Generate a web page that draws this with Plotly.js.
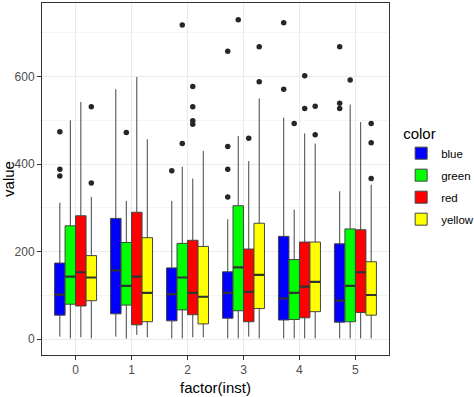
<!DOCTYPE html>
<html><head><meta charset="utf-8">
<script src="https://cdn.plot.ly/plotly-3.0.1.min.js"></script>
<style>body{margin:0;background:#fff}</style>
</head><body><div id="chart" style="width:474px;height:397px"></div>
<script>
const categories = [0, 1, 2, 3, 4, 5];
const tickLabels = ['0', '1', '2', '3', '4', '5'];
const seriesNames = ['blue', 'green', 'red', 'yellow'];
const seriesColors = ['#0000FF', '#00FF00', '#FF0000', '#FFFF00'];

const blueLow = [6, 6, 2, 2, 2, 2];
const blueQ1 = [55, 58, 42, 48, 44, 39];
const blueMedian = [102, 157, 103, 106, 93, 88];
const blueQ3 = [174, 276, 163, 154, 235, 218];
const blueHigh = [312, 571, 316, 274, 506, 338];
const blueOutliers = [[474, 388, 373], [], [385], [325, 388, 440, 658], [723, 571], [668, 539, 527]];

const greenLow = [2, 1.5, 2, 2, 2, 2];
const greenQ1 = [80, 78, 67, 65, 45, 40];
const greenMedian = [143, 122, 141, 164, 106, 122];
const greenQ3 = [259, 221, 219, 305, 182, 252];
const greenHigh = [500, 316, 394, 464, 296, 536];
const greenOutliers = [[], [472], [718, 447], [730], [493], [592]];

const redLow = [4.5, 10, 4.5, 6, 2, 2];
const redQ1 = [76, 33, 56, 40, 49, 61];
const redMedian = [153, 143, 106, 108, 120, 153];
const redQ3 = [282, 290, 226, 206, 222, 250];
const redHigh = [542, 599, 367, 407, 470, 496];
const redOutliers = [[], [], [577, 531, 499, 491], [459], [602, 527], []];

const yellowLow = [2, 4.5, 4.5, 2, 2, 2];
const yellowQ1 = [88, 40, 35, 70, 63, 55];
const yellowMedian = [141, 106, 97, 147, 131, 101];
const yellowQ3 = [191, 232, 212, 265, 222, 177];
const yellowHigh = [325, 457, 430, 550, 447, 353];
const yellowOutliers = [[531, 357], [], [], [668, 588], [532, 467], [493, 449, 367]];

const stats = [
  [blueLow, blueQ1, blueMedian, blueQ3, blueHigh, blueOutliers],
  [greenLow, greenQ1, greenMedian, greenQ3, greenHigh, greenOutliers],
  [redLow, redQ1, redMedian, redQ3, redHigh, redOutliers],
  [yellowLow, yellowQ1, yellowMedian, yellowQ3, yellowHigh, yellowOutliers]
];

const dodge = 0.75, n = seriesNames.length, bw = dodge / n;
const traces = [];
const medTraces = [];
const outTraces = [];
stats.forEach((s, i) => {
  const off = -dodge / 2 + bw * (i + 0.5);
  const xs = categories.map(c => c + off);
  traces.push({
    type: 'box', name: seriesNames[i], x: xs,
    lowerfence: s[0], q1: s[1], median: s[2], q3: s[3], upperfence: s[4],
    width: bw, fillcolor: seriesColors[i],
    line: {color: '#444', width: 1}, whiskerwidth: 0, boxpoints: false,
    legendgroup: seriesNames[i], hoverinfo: 'skip'
  });
  medTraces.push({
    type: 'box', x: xs, lowerfence: s[2], q1: s[2], median: s[2], q3: s[2], upperfence: s[2],
    width: bw, fillcolor: 'rgba(0,0,0,0)', line: {color: '#333', width: 2.2},
    whiskerwidth: 0, boxpoints: false, showlegend: false, hoverinfo: 'skip'
  });
  const ox = [], oy = [];
  s[5].forEach((arr, k) => arr.forEach(v => { ox.push(xs[k]); oy.push(v); }));
  outTraces.push({
    type: 'scatter', mode: 'markers', x: ox, y: oy,
    marker: {color: '#262626', size: 5.5}, showlegend: false, hoverinfo: 'skip'
  });
});

const font = 'Liberation Sans, Arial, sans-serif';
const layout = {
  width: 474, height: 397,
  margin: {l: 42, r: 85, t: 3, b: 42, autoexpand: false},
  paper_bgcolor: '#fff', plot_bgcolor: '#fff',
  boxmode: 'overlay',
  showlegend: true,
  font: {family: font},
  xaxis: {
    range: [-0.6, 5.6], tickvals: categories, ticktext: tickLabels,
    showgrid: true, gridcolor: '#EBEBEB', gridwidth: 1,
    zeroline: false, showline: true, mirror: true, linecolor: '#333', linewidth: 1,
    ticks: 'outside', ticklen: 4, tickcolor: '#333',
    tickfont: {size: 12, color: '#4D4D4D', family: font},
    title: {text: 'factor(inst)', font: {size: 15, color: '#000', family: font}, standoff: 6}
  },
  yaxis: {
    range: [-36, 768], tickvals: [0, 200, 400, 600],
    showgrid: true, gridcolor: '#EBEBEB', gridwidth: 1,
    minor: {tickvals: [100, 300, 500, 700], showgrid: true, gridcolor: '#F4F4F4', gridwidth: 1},
    zeroline: false, showline: true, mirror: true, linecolor: '#333', linewidth: 1,
    ticks: 'outside', ticklen: 4, tickcolor: '#333',
    tickfont: {size: 12, color: '#4D4D4D', family: font},
    title: {text: 'value', font: {size: 15, color: '#000', family: font}, standoff: 6}
  },
  legend: {
    x: 1.035, xanchor: 'left', y: 0.67, yanchor: 'top',
    title: {text: 'color', font: {size: 15, color: '#000', family: font}},
    font: {size: 11.5, color: '#000', family: font},
    tracegroupgap: 3, traceorder: 'grouped', bgcolor: 'rgba(0,0,0,0)'
  }
};

Plotly.newPlot('chart', [...traces, ...medTraces, ...outTraces], layout, {displayModeBar: false, staticPlot: true});
</script>
</body></html>
